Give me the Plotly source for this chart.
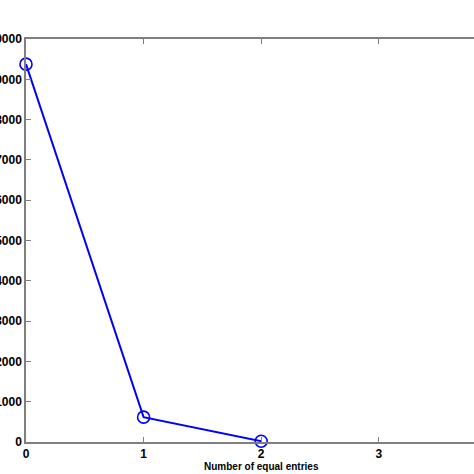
import plotly.graph_objects as go

equal_entries = [0, 1, 2]
counts = [9376, 617, 20]
y_ticks = [0, 1000, 2000, 3000, 4000, 5000, 6000, 7000, 8000, 9000, 10000]
x_ticks = [0, 1, 2, 3, 4]

font_family = "Liberation Sans, Arial, sans-serif"
axis_color = "#7f7f7f"

fig = go.Figure()
fig.add_trace(go.Scatter(
    x=equal_entries, y=counts, mode="lines+markers",
    line=dict(color="#0000ff", width=2),
    marker=dict(symbol="circle-open", size=12, color="#0000ff",
                line=dict(width=1.6, color="#0000ff")),
    cliponaxis=False,
))

fig.update_layout(
    width=474, height=474,
    margin=dict(l=26, r=0, t=39, b=32),
    paper_bgcolor="white", plot_bgcolor="white",
    showlegend=False,
    font=dict(family=font_family, color="black"),
    xaxis=dict(
        range=[0, 3.81], tickvals=x_ticks, ticktext=[str(v) for v in x_ticks],
        showgrid=False, zeroline=False,
        showline=True, linecolor=axis_color, linewidth=1.5,
        mirror="ticks", ticks="inside", ticklen=5, tickcolor=axis_color, tickwidth=1,
        tickfont=dict(family=font_family, size=12, color="black", weight="bold"),
        automargin=False,
    ),
    yaxis=dict(
        range=[0, 10000], tickvals=y_ticks, ticktext=[str(v) for v in y_ticks],
        showgrid=False, zeroline=False,
        showline=True, linecolor=axis_color, linewidth=1.5,
        ticks="inside", ticklen=5, tickcolor=axis_color, tickwidth=1,
        tickfont=dict(family=font_family, size=12, color="black", weight="bold"),
        automargin=False,
    ),
)

fig.add_annotation(
    x=2, xref="x", y=-0.061, yref="paper", yanchor="middle",
    text="Number of equal entries", showarrow=False,
    font=dict(family=font_family, size=10, color="black", weight="bold"),
)

fig.write_html(
    "out.html",
    config={"displayModeBar": False},
    post_script="document.body.style.margin='0';document.body.style.overflow='hidden';",
)
